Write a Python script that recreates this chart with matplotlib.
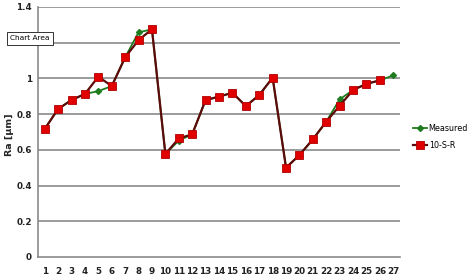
import matplotlib
matplotlib.use("Agg")
import matplotlib.pyplot as plt

x_measured = list(range(1, 28))
measured = [0.717, 0.829, 0.879, 0.913, 0.929, 0.957, 1.118, 1.258, 1.275,
            0.577, 0.652, 0.687, 0.879, 0.898, 0.920, 0.845, 0.907, 1.004,
            0.500, 0.571, 0.659, 0.758, 0.883, 0.935, 0.970, 0.989, 1.017]
x_model = list(range(1, 27))
model = [0.717, 0.829, 0.879, 0.913, 1.010, 0.957, 1.118, 1.215, 1.275,
         0.577, 0.664, 0.687, 0.879, 0.898, 0.920, 0.845, 0.907, 1.004,
         0.500, 0.571, 0.659, 0.758, 0.847, 0.935, 0.970, 0.989]
y_ticks = [0, 0.2, 0.4, 0.6, 0.8, 1.0, 1.2, 1.4]
y_labels = ["0", "0.2", "0.4", "0.6", "0.8", "1", "1.2", "1.4"]

fig = plt.figure(figsize=(4.74, 2.78), dpi=100)
ax = fig.add_axes([38/474, 21/278, 362/474, 250/278])

grid_c = "#8a8a8a"
for v in y_ticks[1:]:
    ax.axhline(v, color=grid_c, lw=1.2, zorder=0)

g, = ax.plot(x_measured, measured, color="#1e7b1e", lw=1.3, marker="D",
             ms=3, mfc="#1e7b1e", mec="#1e7b1e", zorder=2, label="Measured")
r, = ax.plot(x_model, model, color="#5c0a0a", lw=1.6, marker="s", ms=5.5,
             mfc="#e00000", mec="#b00000", mew=0.6, zorder=3, label="10-S-R")

ax.set_xlim(0.5, 27.5)
ax.set_ylim(0, 1.4)
ax.set_xticks(x_measured)
ax.set_xticklabels([str(i) for i in x_measured], fontsize=6.3, fontweight="bold", color="#222222")
ax.set_yticks(y_ticks)
ax.set_yticklabels(y_labels, fontsize=6.3, fontweight="bold", color="#222222")
# the "1.2" label is hidden behind the "Chart Area" tooltip in the reference
ax.get_yticklabels()[6].set_visible(False)
ax.tick_params(axis="y", length=0, pad=4.5)
ax.tick_params(axis="x", length=0, pad=7)
for s in ["top", "right"]:
    ax.spines[s].set_visible(False)
for s in ["left", "bottom"]:
    ax.spines[s].set_color(grid_c)
    ax.spines[s].set_linewidth(1.2)

fig.text(9/474, 1 - 135/278, "Ra [μm]", rotation=90, fontsize=6.8, fontweight="bold",
         ha="center", va="center", color="#222222")

fig.legend(handles=[g, r], loc="upper left", bbox_to_anchor=(413/474, 1 - 124/278),
           frameon=False, prop={"size": 5.8},
           handlelength=1.7, handletextpad=0.25, labelspacing=1.0, borderaxespad=0,
           borderpad=0)

fig.text(10/474, 1 - 38.5/278, "Chart Area", fontsize=5.3, va="center", ha="left",
         zorder=5,
         bbox=dict(boxstyle="square,pad=0.45", fc="white", ec="#333333", lw=0.7))

fig.savefig("out.png", dpi=100)
